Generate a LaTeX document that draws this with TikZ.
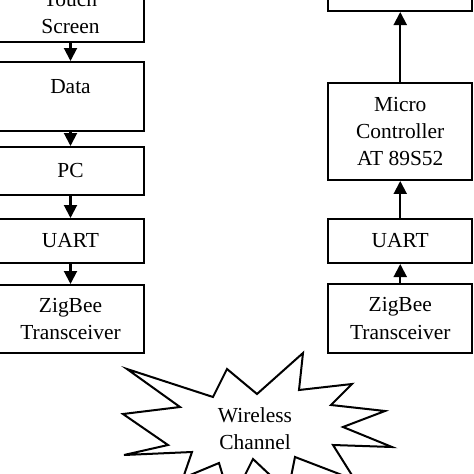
\documentclass[tikz,border=0pt]{standalone}
\usepackage{fontspec}
\setmainfont{Liberation Serif}
\usepackage{tikz}
\usetikzlibrary{arrows.meta, positioning}

\begin{document}
\begin{tikzpicture}[x=0.02cm, y=-0.02cm]
    % Define styles
    \tikzset{
        block/.style={draw, line width=1.14pt, align=center, inner sep=0pt,
                      font=\fontsize{12.2}{15.5}\selectfont},
        leftblock/.style={block, minimum width=2.94cm},
        rightblock/.style={block, minimum width=2.89cm},
        link/.style={line width=1.14pt, -{Triangle[width=7.4pt, length=7.4pt]}}
    }

    % Frame of the picture
    \useasboundingbox (0,0) rectangle (474,474);
    \clip (0,0) rectangle (474,474);

    % Transmitter side
    \node[leftblock, minimum height=1.18cm] (touch) at (70.5,13) {Touch\\Screen};
    \node[leftblock, minimum height=1.38cm] (data) at (70.5,96.5) {Data\\[-9pt]\strut};
    \node[leftblock, minimum height=0.96cm] (pc) at (70.5,171) {PC};
    \node[leftblock, minimum height=0.88cm] (uartL) at (70.5,241) {UART};
    \node[leftblock, minimum height=1.36cm] (zigbeeL) at (70.5,319) {ZigBee\\Transceiver};

    % Receiver side
    \node[rightblock, minimum height=1.30cm] (output) at (400.25,-21.5) {};
    \node[rightblock, minimum height=1.94cm] (micro) at (400.25,131.5) {Micro\\Controller\\AT 89S52};
    \node[rightblock, minimum height=0.88cm] (uartR) at (400.25,241) {UART};
    \node[rightblock, minimum height=1.38cm] (zigbeeR) at (400.25,318.5) {ZigBee\\Transceiver};

    % Data flow
    \draw[link] (touch) -- (data);
    \draw[link] (data) -- (pc);
    \draw[link] (pc) -- (uartL);
    \draw[link] (uartL) -- (zigbeeL);
    \draw[link] (zigbeeR) -- (uartR);
    \draw[link] (uartR) -- (micro);
    \draw[link] (micro) -- (output);

    % Wireless channel
    \draw[line width=1.14pt]
        (127,369) -- (213,397) -- (227,369) -- (257,394) -- (303,353) --
        (299,390) -- (352,384) -- (331,405) -- (385,411) -- (343,427) --
        (392,447) -- (333,445) -- (355,480) -- (295,457) -- (288,492) --
        (253,459) -- (231,503) -- (219,463) -- (183,478) -- (192,452) --
        (124,455) -- (168,445) -- (123,414) -- (180,407) -- cycle;
    \node[align=center, inner sep=0pt, font=\fontsize{12.2}{15.5}\selectfont]
        (channel) at (255,428.5) {Wireless\\Channel};
\end{tikzpicture}
\end{document}
